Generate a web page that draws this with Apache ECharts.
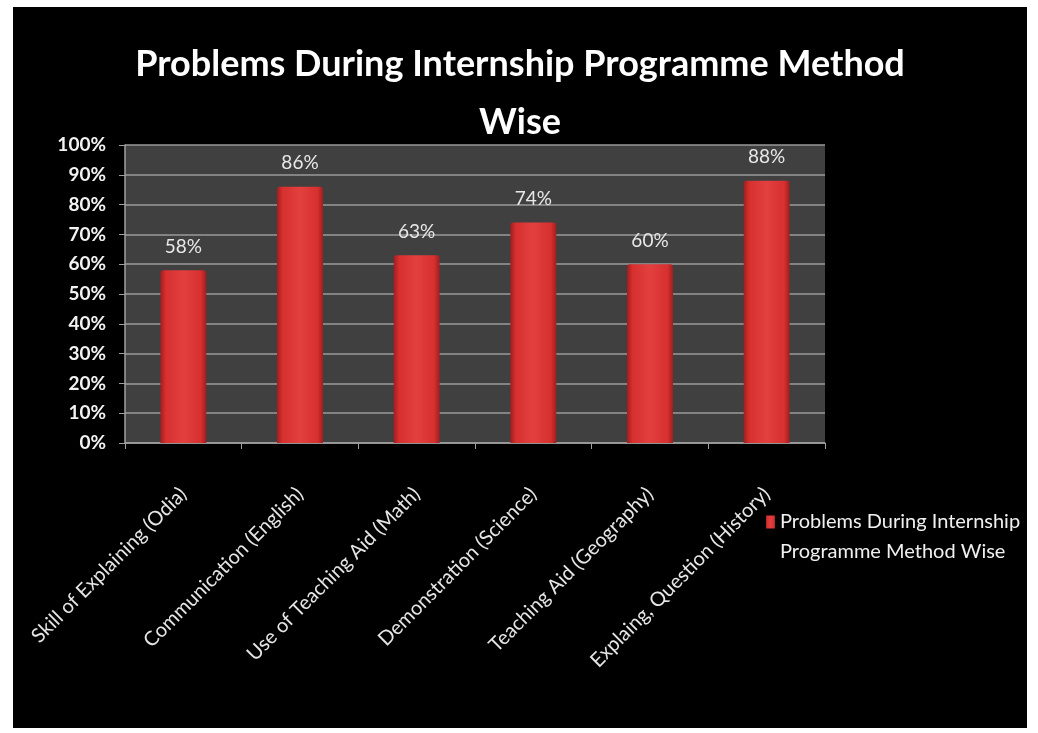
<!DOCTYPE html>
<html>
<head>
<meta charset="utf-8">
<script src="https://cdn.jsdelivr.net/npm/echarts@6/dist/echarts.min.js"></script>
<style>
html,body{margin:0;padding:0;background:#fff;width:1038px;height:733px;overflow:hidden;}
#chart{position:absolute;left:13px;top:7px;width:1014px;height:721px;}
</style>
</head>
<body>
<div id="chart"></div>
<script>
const categories = [
  "Skill of Explaining (Odia)",
  "Communication (English)",
  "Use of Teaching Aid (Math)",
  "Demonstration (Science)",
  "Teaching Aid (Geography)",
  "Explaing, Question (History)"
];
const values = [58, 86, 63, 74, 60, 88];
const yTicks = [0, 10, 20, 30, 40, 50, 60, 70, 80, 90, 100];
const seriesName = "Problems During Internship Programme Method Wise";
const titleText = "Problems During Internship Programme Method\nWise";
const legendText = "\nProblems During Internship\nProgramme Method Wise";

const FONT = "Lato, 'Open Sans', sans-serif";
const chart = echarts.init(document.getElementById('chart'));
const barColor = new echarts.graphic.LinearGradient(0, 0, 1, 0, [
  {offset: 0, color: '#a01e20'},
  {offset: 0.12, color: '#d6302f'},
  {offset: 0.5, color: '#e2403f'},
  {offset: 0.88, color: '#d6302f'},
  {offset: 1, color: '#a01e20'}
]);
chart.setOption({
  backgroundColor: '#000',
  animation: false,
  title: {
    text: titleText,
    left: 'center',
    top: 23,
    textStyle: {color: '#fff', fontSize: 36, fontWeight: 'bold', fontFamily: FONT, lineHeight: 58}
  },
  legend: {
    left: 748,
    top: 465,
    orient: 'vertical',
    itemWidth: 9,
    itemHeight: 13,
    icon: 'rect',
    formatter: () => legendText,
    textStyle: {color: '#f0f0f0', fontSize: 20, fontFamily: FONT, lineHeight: 30},
    data: [seriesName]
  },
  grid: {
    left: 112, top: 138, width: 700, height: 298,
    show: true, backgroundColor: '#404040', borderWidth: 0
  },
  xAxis: {
    type: 'category',
    data: categories,
    axisLine: {lineStyle: {color: '#a0a0a0', width: 1.5}},
    axisTick: {show: true, length: 6, lineStyle: {color: '#a0a0a0'}},
    axisLabel: {
      rotate: 45, margin: 48, interval: 0,
      color: '#e6e6e6', fontSize: 20, fontFamily: FONT
    }
  },
  yAxis: {
    type: 'value',
    min: 0, max: 100, interval: 10,
    axisLine: {show: true, lineStyle: {color: '#a0a0a0', width: 1.5}},
    axisTick: {show: true, length: 6, lineStyle: {color: '#a0a0a0'}},
    splitLine: {lineStyle: {color: '#9a9a9a', width: 1.5}},
    axisLabel: {
      color: '#f2f2f2', fontSize: 19, fontWeight: 'bold', fontFamily: FONT, margin: 19,
      formatter: v => yTicks.includes(v) ? v + '%' : ''
    }
  },
  series: [{
    name: seriesName,
    type: 'bar',
    data: values,
    barWidth: 46,
    itemStyle: {color: barColor, borderRadius: [3, 3, 0, 0]},
    label: {
      show: true, position: 'top', distance: 14,
      formatter: p => p.value + '%',
      color: '#e8e8e8', fontSize: 19, fontFamily: FONT
    }
  }]
});
</script>
</body>
</html>
